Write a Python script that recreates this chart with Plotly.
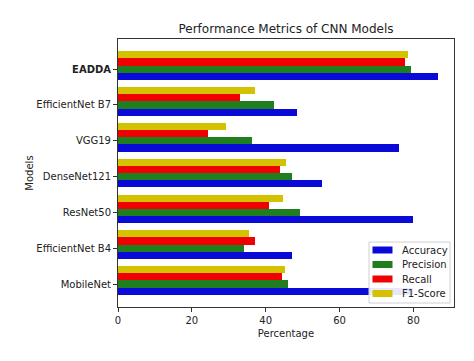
import plotly.graph_objects as go

models = ["MobileNet", "EfficientNet B4", "ResNet50", "DenseNet121", "VGG19", "EfficientNet B7", "EADDA"]
tick_labels = ["MobileNet", "EfficientNet B4", "ResNet50", "DenseNet121", "VGG19", "EfficientNet B7", "<b>EADDA</b>"]
accuracy = [80.0, 47.0, 79.9, 55.3, 76.2, 48.4, 86.6]
precision = [46.1, 34.0, 49.4, 47.0, 36.2, 42.3, 79.4]
recall = [44.5, 37.1, 40.9, 44.0, 24.5, 33.1, 77.6]
f1_score = [45.3, 35.6, 44.8, 45.5, 29.3, 37.1, 78.5]
metric_names = ["Accuracy", "Precision", "Recall", "F1-Score"]
metric_colors = ["#0a0ad8", "#1f7f1f", "#f00000", "#d4c200"]
metric_offsets = [-0.2, 0.0, 0.2, 0.4]
metric_values = [accuracy, precision, recall, f1_score]

fig = go.Figure()
idx = list(range(len(models)))
for name, vals, color, off in zip(metric_names, metric_values, metric_colors, metric_offsets):
    fig.add_trace(go.Bar(
        x=vals, y=[i + off for i in idx], orientation="h", width=0.2,
        name=name, marker=dict(color=color, line=dict(width=0)),
    ))

# Legend drawn in matplotlib style (paper coordinates)
PW, PH, L, B = 336.0, 268.0, 118.0, 307.0
def px_x(p):
    return (p - L) / PW
def px_y(p):
    return (B - p) / PH

shapes = [dict(type="rect", xref="paper", yref="paper",
               x0=px_x(369), x1=px_x(450), y0=px_y(303), y1=px_y(242),
               fillcolor="rgba(255,255,255,0.9)", line=dict(color="#d0d0d0", width=1), layer="above")]
annotations = []
item_y = [250, 264.5, 279, 293.5]
for name, color, yc in zip(metric_names, metric_colors, item_y):
    shapes.append(dict(type="rect", xref="paper", yref="paper",
                       x0=px_x(372.5), x1=px_x(392.5), y0=px_y(yc + 3.5), y1=px_y(yc - 3.5),
                       fillcolor=color, line=dict(width=0), layer="above"))
    annotations.append(dict(text=name, xref="paper", yref="paper", x=px_x(400), y=px_y(yc),
                            xanchor="left", yanchor="middle", showarrow=False,
                            font=dict(size=10, color="#222")))

font = "DejaVu Sans, sans-serif"
fig.update_layout(
    width=474, height=361,
    margin=dict(l=118, r=20, t=39, b=54, autoexpand=False),
    paper_bgcolor="white", plot_bgcolor="white",
    font=dict(family=font, size=10, color="#222"),
    title=dict(text="Performance Metrics of CNN Models", x=0.5, xref="paper", xanchor="center",
               y=1 - 29 / 361, yanchor="middle", font=dict(size=12, color="#222")),
    showlegend=False,
    shapes=shapes, annotations=annotations,
    bargap=0,
)
fig.update_xaxes(range=[0, 91], tickvals=[0, 20, 40, 60, 80], showgrid=False, zeroline=False,
                 showline=True, linecolor="#333", linewidth=1, mirror=True,
                 ticks="outside", ticklen=4, tickcolor="#333", automargin=False,
                 title=dict(text="Percentage", font=dict(size=10), standoff=4))
fig.update_yaxes(range=[-0.64, 6.84], tickvals=idx, ticktext=tick_labels, showgrid=False,
                 zeroline=False, showline=True, linecolor="#333", linewidth=1, mirror=True,
                 ticks="outside", ticklen=4, tickcolor="#333", automargin=False,
                 title=dict(text="Models", font=dict(size=10), standoff=0))

fig.write_html("out.html", config={"displayModeBar": False},
               post_script="document.body.style.margin='0';")
